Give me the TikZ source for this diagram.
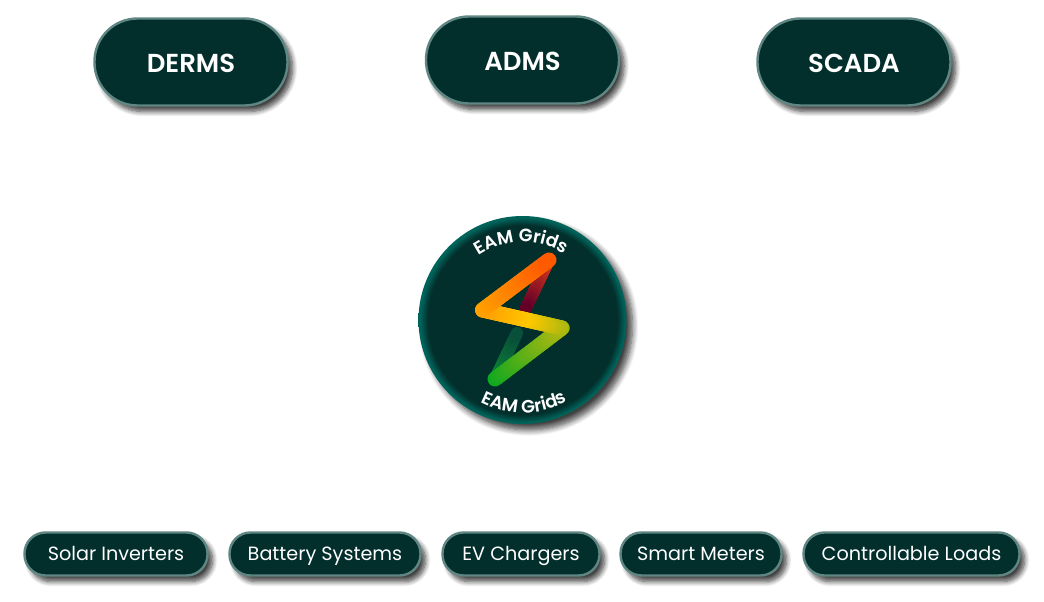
\documentclass[tikz,border=0pt]{standalone}
\usepackage{fontspec}
\setmainfont{Poppins}
\newfontfamily\medfont{Poppins SemiBold}
\usetikzlibrary{shapes,arrows,shadows.blur,calc,decorations.text}
\definecolor{pine}{HTML}{022F2C}
\definecolor{pineedge}{HTML}{5F8682}
\definecolor{hubring}{HTML}{00635A}
\definecolor{boltred}{HTML}{FF5A00}
\definecolor{boltorange}{HTML}{FFA200}
\definecolor{boltyellow}{HTML}{FFC800}
\definecolor{boltlime}{HTML}{A8B810}
\definecolor{boltgreen}{HTML}{10A820}
\definecolor{backred}{HTML}{E8401A}
\definecolor{backdark}{HTML}{640028}
\definecolor{backgreen}{HTML}{0C8A34}
\definecolor{backpine}{HTML}{08503A}
\pgfdeclareradialshading{hubshade}{\pgfpoint{0bp}{0bp}}{color(0bp)=(pine); color(22.8bp)=(pine); color(24.6bp)=(hubring); color(50bp)=(hubring)}
\tikzstyle{pill} = [rectangle, draw=pineedge, line width=2.4pt, fill=pine, text=white, align=center,
    blur shadow={shadow xshift=5pt, shadow yshift=-6pt, shadow blur radius=5pt, shadow blur steps=8, shadow opacity=75}]
\tikzstyle{system} = [pill, rounded corners=43pt, minimum width=193pt, minimum height=87pt, text height=22pt, text depth=0pt, font=\medfont\fontsize{26}{30}\selectfont]
\tikzstyle{device} = [pill, rounded corners=21pt, minimum height=43pt, text height=16pt, text depth=2pt, font=\fontsize{19.2}{24}\selectfont]
\tikzstyle{hub} = [circle, minimum size=208pt, shading=hubshade,
    blur shadow={shadow xshift=6pt, shadow yshift=-6pt, shadow blur radius=6pt, shadow blur steps=8, shadow opacity=75}]
\tikzstyle{badge} = [decorate, decoration={text along path, text align=center,
    text={|\medfont\fontsize{18}{20}\selectfont\color{white}|EAM Grids}}]
% one stroke of the bolt, colour running from #4 to #5
\newcommand{\boltstroke}[5][15pt]{
    \foreach \i in {0,...,29} {
        \pgfmathsetmacro\pa{\i/30}
        \pgfmathsetmacro\pb{(\i+1)/30}
        \pgfmathsetmacro\mix{100-100*\i/29}
        \draw [line width=#1, line cap=round, color={#4!\mix!#5}] ($#2!\pa!#3$) -- ($#2!\pb!#3$);
    }
}
\begin{document}
\begin{tikzpicture}[node distance = 2cm, auto]
    \useasboundingbox (0,0) rectangle (1044pt,602pt);
    % Place nodes
    \node [system] at (522.5pt,542pt) (adms) {ADMS};
    \node [system, left of=adms, node distance=331.5pt, yshift=-2pt] (derms) {DERMS};
    \node [system, right of=adms, node distance=331.5pt, yshift=-2pt] (scada) {SCADA};
    \node [hub, below of=adms, node distance=260pt] (eam) {};
    \node [device, minimum width=157pt, below of=eam, node distance=234pt, xshift=-1.5pt] (ev) {EV Chargers};
    \node [device, minimum width=191pt, left of=ev, node distance=196pt] (battery) {Battery Systems};
    \node [device, minimum width=183pt, left of=battery, node distance=209pt] (solar) {Solar Inverters};
    \node [device, minimum width=161pt, right of=ev, node distance=180pt] (meters) {Smart Meters};
    \node [device, minimum width=216pt, right of=meters, node distance=210.5pt] (loads) {Controllable Loads};
    % Bolt inside the badge
    \coordinate (tip) at ($(eam.center)+(26.5pt,60pt)$);
    \coordinate (west) at ($(eam.center)+(-40pt,10pt)$);
    \coordinate (mid) at ($(eam.center)+(0pt,1pt)$);
    \coordinate (east) at ($(eam.center)+(39.5pt,-8pt)$);
    \coordinate (foot) at ($(eam.center)+(-27.5pt,-59pt)$);
    \coordinate (upper) at ($(eam.center)+(2.5pt,10pt)$);
    \coordinate (lower) at ($(eam.center)+(-5.5pt,-13pt)$);
    \boltstroke[12pt]{(tip)}{(upper)}{backred}{backdark}
    \boltstroke[12pt]{(foot)}{(lower)}{backgreen}{backpine}
    \boltstroke{(foot)}{(east)}{boltgreen}{boltlime}
    \boltstroke{(east)}{(mid)}{boltlime}{boltyellow}
    \boltstroke{(mid)}{(west)}{boltyellow}{boltorange}
    \boltstroke{(west)}{(tip)}{boltorange}{boltred}
    % Text round the badge
    \path [badge] ($(eam.center)+(-52.5pt,58.4pt)$) arc [start angle=131, end angle=51, radius=80pt];
    \path [badge] ($(eam.center)+(-58.5pt,-72.3pt)$) arc [start angle=231, end angle=311, radius=93pt];
\end{tikzpicture}
\end{document}
